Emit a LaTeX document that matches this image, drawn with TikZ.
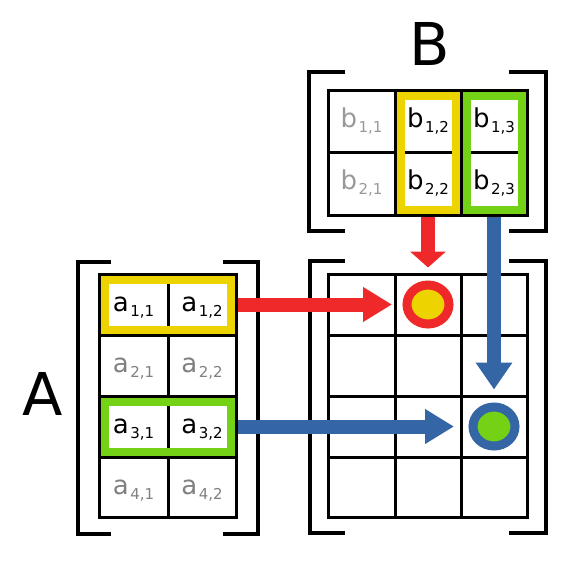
\documentclass[tikz,border=0pt]{standalone}
\usepackage{fontspec}
\setmainfont{DejaVu Sans}
\usetikzlibrary{arrows.meta,shapes.geometric,positioning}
\definecolor{hlyellow}{HTML}{EDD400}
\definecolor{hlgreen}{HTML}{73D216}
\definecolor{arrred}{HTML}{EF2929}
\definecolor{arrblue}{HTML}{3465A4}
\newcommand{\mentry}[2]{\fontsize{26}{26}\selectfont #1\hspace{1.5pt}\raisebox{-5pt}{\fontsize{15}{15}\selectfont #2}}

\begin{document}
\begin{tikzpicture}[x=1pt,y=-1pt,
  grid/.style={line width=3pt},
  brack/.style={line width=4pt},
  hl/.style={draw=#1,line width=8pt,inner sep=0pt,outer sep=0pt},
  bigarrow/.style={draw=#1,line width=14pt},
  cell/.style={anchor=base,inner sep=0pt},
  dot/.style={ellipse,inner sep=0pt,outer sep=0pt,minimum width=42pt,minimum height=39pt,line width=9pt}]
\useasboundingbox (0,0) rectangle (578,570);
% grid of A
\draw[grid] (99,274) rectangle (236,517);
\draw[grid] (168,274) -- (168,517);
\foreach \y in {335,396,457} \draw[grid] (99,\y) -- (236,\y);
% grid of B
\draw[grid] (328,90) rectangle (527,215);
\foreach \x in {395,461} \draw[grid] (\x,90) -- (\x,215);
\draw[grid] (328,152) -- (527,152);
% grid of the product
\draw[grid] (328,274) rectangle (527,517);
\foreach \x in {395,461} \draw[grid] (\x,274) -- (\x,517);
\foreach \y in {335,396,457} \draw[grid] (328,\y) -- (527,\y);
% brackets
\draw[brack] (111,262) -| (78,534) -- (111,534);
\draw[brack] (223,262) -| (258,534) -- (223,534);
\draw[brack] (345,72) -| (309,231) -- (345,231);
\draw[brack] (509,72) -| (546,231) -- (509,231);
\draw[brack] (345,261) -| (310,533) -- (345,533);
\draw[brack] (509,261) -| (546,533) -- (509,533);
% highlighted row and columns
\node[hl=hlyellow,minimum width=126pt,minimum height=50pt] (arow1) at (167.5,304.5) {};
\node[hl=hlgreen,minimum width=126pt,minimum height=50pt] (arow3) at (167.5,426.5) {};
\node[hl=hlyellow,minimum width=55pt,minimum height=114pt] (bcol2) at (428,152.5) {};
\node[hl=hlgreen,minimum width=55pt,minimum height=114pt] (bcol3) at (494,152.5) {};
% entries
\foreach \r/\y in {1/311,3/433}
  \foreach \c/\x in {1/133.5,2/202}
    \node[cell] (a\r\c) at (\x,\y) {\mentry{a}{\r,\c}};
\foreach \r/\y in {2/372,4/494}
  \foreach \c/\x in {1/133.5,2/202}
    \node[cell,text=black!50] (a\r\c) at (\x,\y) {\mentry{a}{\r,\c}};
\foreach \r/\y in {1/127,2/189}{
  \node[cell,text=black!40] (b\r1) at (361.5,\y) {\mentry{b}{\r,1}};
  \foreach \c/\x in {2/428,3/494}
    \node[cell] (b\r\c) at (\x,\y) {\mentry{b}{\r,\c}};
}
\node[font=\fontsize{59}{59}\selectfont] (labA) at (43,393.5) {A};
\node[font=\fontsize{59}{59}\selectfont] (labB) at (430,43.5) {B};
% result entries
\node[dot,draw=arrred,fill=hlyellow] (c12) at (428,304.5) {};
\node[dot,draw=arrblue,fill=hlgreen] (c33) at (494,426.5) {};
% arrows
\draw[bigarrow=arrred,-{Triangle[length=29pt,width=33pt]},shorten >=15pt] ([xshift=7pt]arow1.east) -- (c12.west);
\draw[bigarrow=arrblue,-{Triangle[length=29pt,width=33pt]},shorten >=19pt] ([xshift=7pt]arow3.east) -- (c33.west);
\draw[bigarrow=arrred,-{Triangle[length=16pt,width=35pt]},shorten >=17.5pt] ([yshift=-7pt]bcol2.south) -- (c12.north);
\draw[bigarrow=arrblue,-{Triangle[length=27pt,width=35pt]},shorten >=17.5pt] ([yshift=-7pt]bcol3.south) -- (c33.north);
\end{tikzpicture}
\end{document}
